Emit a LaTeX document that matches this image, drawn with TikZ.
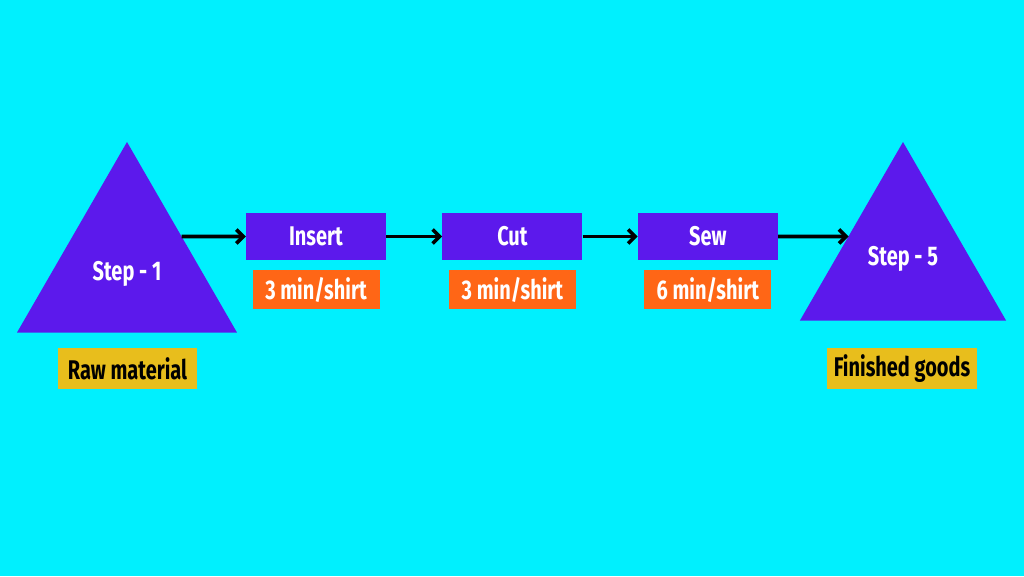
\documentclass[tikz,border=0pt]{standalone}
\usepackage{fontspec}
\setmainfont[FakeStretch=0.74]{Fira Sans}
\usetikzlibrary{positioning,shapes.geometric,arrows.meta}
\definecolor{bgcyan}{RGB}{0,240,254}
\definecolor{steppurple}{RGB}{92,25,236}
\definecolor{timeorange}{RGB}{255,102,22}
\definecolor{notegold}{RGB}{232,190,28}
\tikzset{
    block/.style = {fill=steppurple, rectangle, text=white,
        minimum height=47pt,
        minimum width=140pt, inner sep=0pt, align=center},
    timebox/.style = {fill=timeorange, rectangle, text=white,
        minimum height=39pt, minimum width=127pt, inner sep=0pt},
    notebox/.style = {fill=notegold, rectangle, text=black,
        minimum height=41pt, inner sep=0pt},
    stage/.style = {fill=steppurple, regular polygon, regular polygon sides=3,
        inner sep=0pt, outer sep=0pt, text=white},
    arrow/.style={draw, line width=3.6pt, -{Straight Barb[length=7pt,width=14pt]}}
}
\newcommand{\lbl}{\fontsize{27}{31}\selectfont\bfseries}

\begin{document}
\begin{tikzpicture}[x=1pt, y=1pt, every node/.style={font=\lbl}]
    \useasboundingbox [fill=bgcyan] (0,0) rectangle (1024,576);
    % stages at both ends
    \node [stage, minimum size=254pt, name=step1] at (127,307) {\raisebox{-12pt}[0pt][0pt]{Step - 1}};
    \node [stage, minimum size=238pt, name=step5] at (903,315) {\raisebox{-5pt}[0pt][0pt]{Step - 5}};
    \node [notebox, minimum width=139pt, name=raw] at (127.5,207.5) {Raw material};
    \node [notebox, minimum width=150pt, name=finished] at (902,207.5) {Finished goods};
    % process blocks
    \node [block, name=insert] at (316,339.5) {Insert};
    \node [block, right=56pt of insert, name=cut] {Cut};
    \node [block, right=55pt of cut, name=sew] {Sew};
    \node [timebox, below=10pt of insert, name=tinsert] {3 min/shirt};
    \node [timebox, below=10pt of cut, name=tcut] {3 min/shirt};
    \node [timebox, below=10pt of sew, name=tsew] {6 min/shirt};
    % flow
    \draw [arrow] (intersection of step1.corner 1--step1.corner 3 and insert.west--insert.east) -- (insert.west);
    \draw [arrow] (insert) -- (cut);
    \draw [arrow] (cut) -- (sew);
    \draw [arrow] (sew.east) -- (intersection of step5.corner 1--step5.corner 2 and sew.west--sew.east);
\end{tikzpicture}
\end{document}
